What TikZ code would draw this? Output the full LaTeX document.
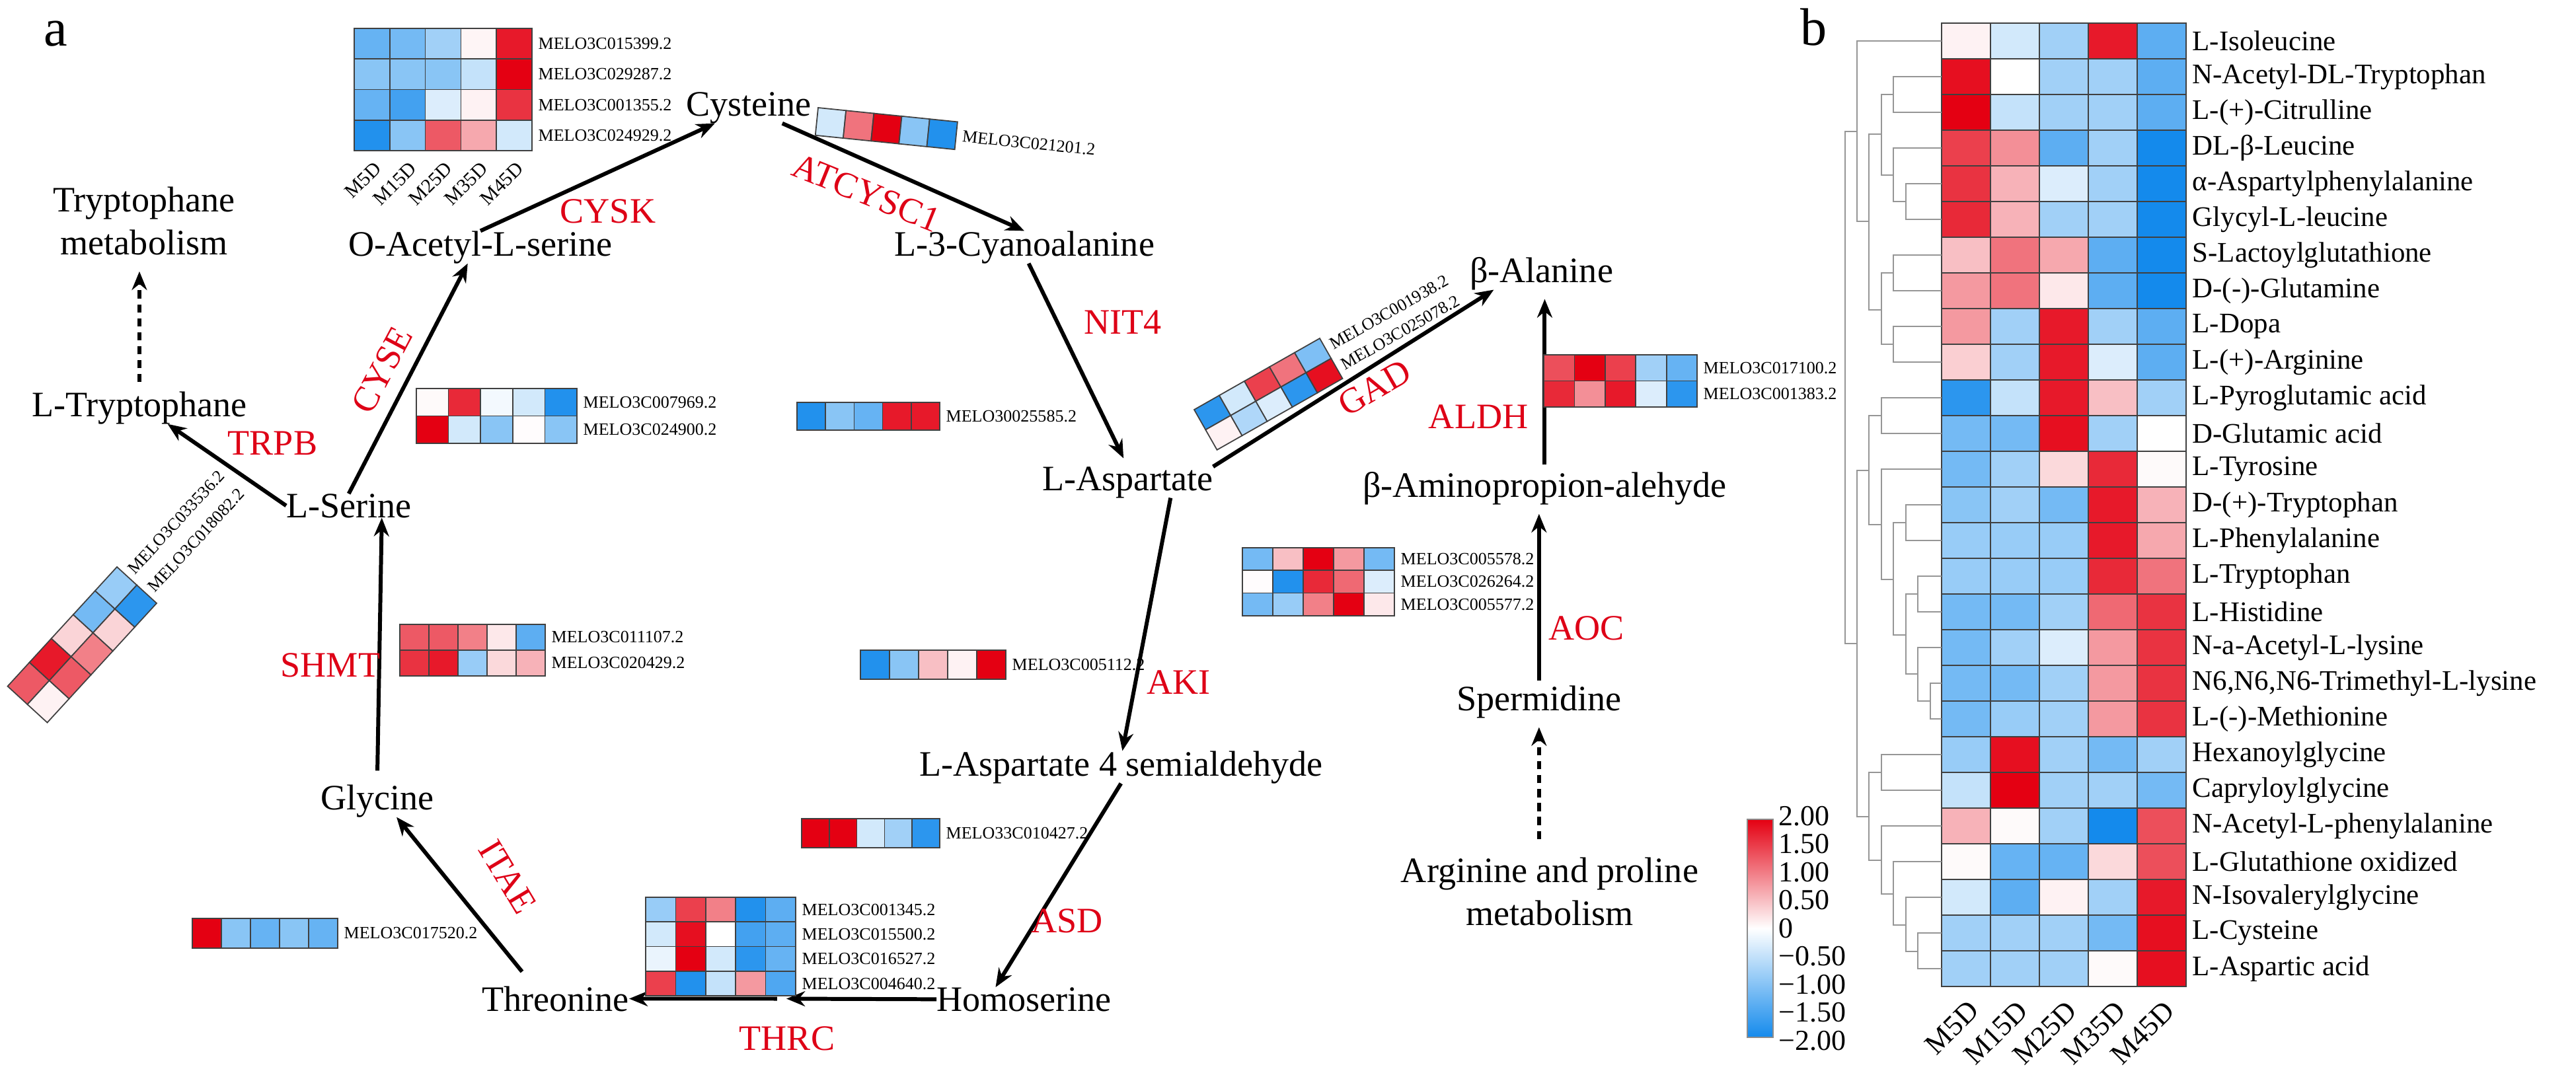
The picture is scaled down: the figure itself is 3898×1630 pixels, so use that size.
\documentclass[tikz,border=0pt]{standalone}
\usepackage{fontspec}
\setmainfont{Liberation Serif}
\usetikzlibrary{arrows.meta}

\definecolor{hmred}{RGB}{228,0,18}
\definecolor{hmblue}{RGB}{20,138,236}
\definecolor{enzred}{RGB}{222,0,22}
\definecolor{treegray}{RGB}{150,150,150}

\tikzset{
  met/.style={font=\fontsize{15.4}{18.5}\selectfont, inner sep=0pt, outer sep=0pt},
  enz/.style={font=\fontsize{15.4}{18.5}\selectfont, text=enzred, inner sep=0pt},
  gene/.style={font=\fontsize{7.4}{8}\selectfont, inner sep=0pt, anchor=west},
  blab/.style={font=\fontsize{12.2}{14}\selectfont, inner sep=0pt, anchor=west},
  colab/.style={inner sep=0pt, anchor=east, rotate=45},
  panel/.style={font=\fontsize{22.8}{24}\selectfont, inner sep=0pt},
  arr/.style={line width=1.7pt, -{Stealth[length=8pt,width=6.5pt]}},
  dasharr/.style={arr, dash pattern=on 3.5pt off 2.5pt},
  cellline/.style={draw=black!75, line width=0.5pt},
  tree/.style={draw=treegray, line width=0.8pt},
}

% heatmap: label style, origin, angle, cell width, cell height, rows, labels
\newcommand{\heatmap}[7]{%
  \begin{scope}[shift={#2}, rotate=#3]
    \foreach \row [count=\ri from 0] in {#6} {
      \foreach \v [count=\ci from 0] in \row {
        \pgfmathtruncatemacro\p{min(100,abs(\v)*50)}
        \ifdim\v pt<0pt \def\hc{hmblue}\else\def\hc{hmred}\fi
        \filldraw[fill=\hc!\p!white, cellline] (\ci*#4,\ri*#5) rectangle ++(#4,#5);
      }
    }
    \foreach \lab [count=\ri from 0] in {#7}
      \node[#1, rotate=#3] at (5*#4+9, \ri*#5+0.5*#5) {\lab};
  \end{scope}}

\begin{document}
\begin{tikzpicture}[x=0.01cm, y=-0.01cm, >=Stealth]
\useasboundingbox (0,0) rectangle (3898,1630);

% panel letters
\node[panel, anchor=base] (pa) at (84,69) {a};
\node[panel, anchor=base] (pb) at (2745,68) {b};

% metabolites
\node[met, anchor=north, align=center] (trpm) at (218,283) {Tryptophane\\metabolism};
\node[met, anchor=base west] (ltrp) at (48,630) {L-Tryptophane};
\node[met, anchor=base west] (lser) at (433,783) {L-Serine};
\node[met, anchor=base west] (oas) at (527,387) {O-Acetyl-L-serine};
\node[met, anchor=base west] (cys) at (1038,175) {Cysteine};
\node[met, anchor=base west] (l3c) at (1353,387) {L-3-Cyanoalanine};
\node[met, anchor=base west] (lasp) at (1577,742) {L-Aspartate};
\node[met, anchor=base west] (las4) at (1391,1174) {L-Aspartate 4 semialdehyde};
\node[met, anchor=base west] (homo) at (1417,1530) {Homoserine};
\node[met, anchor=base east] (thr) at (952,1530) {Threonine};
\node[met, anchor=base west] (gly) at (485,1225) {Glycine};
\node[met, anchor=base west] (bala) at (2224,427) {β-Alanine};
\node[met, anchor=base west] (bap) at (2062,752) {β-Aminopropion-alehyde};
\node[met, anchor=base west] (spd) at (2204,1075) {Spermidine};
\node[met, anchor=north, align=center] (arg) at (2345,1298) {Arginine and proline\\metabolism};
\coordinate (thrcm) at (1190,1511.5);

% reactions
\draw[dasharr, shorten <=4pt, shorten >=7pt] (ltrp.north) -- (ltrp.north |- trpm.south);
\draw[arr] (lser.west) -- (ltrp.-30);
\draw[arr] (lser.north) -- (oas.-128);
\draw[arr] (oas.north) -- (cys.-155);
\draw[arr] (cys.-25) -- (l3c.north);
\draw[arr, shorten >=4pt] (l3c.-75) -- (lasp.north);
\draw[arr] (lasp.-20) -- (las4.85);
\draw[arr] (las4.south) -- (homo.157);
\draw[arr] (homo.west) -- (thrcm);
\draw[arr, shorten <=4pt] (thrcm) -- (thr.east);
\draw[arr, shorten <=8pt] (thr.150) -- (gly.-40);
\draw[arr, shorten <=6pt] (gly.north) -- (lser.-20);
\draw[arr] (lasp.north east) -- (bala.-161.6);
\draw[arr, shorten <=3pt, shorten >=4pt] (bap.north) -- (bap.north |- bala.south);
\draw[arr, shorten <=2pt, shorten >=4pt] (spd.north) -- (spd.north |- bap.south);
\draw[dasharr, shorten <=8pt, shorten >=4pt] (arg.north -| spd.south) -- (spd.south);

% enzymes
\node[enz, anchor=base west] (trpb) at (344,688) {TRPB};
\node[enz, rotate=62] (cyse) at (578,560) {CYSE};
\node[enz, anchor=base west] (cysk) at (847,337) {CYSK};
\node[enz, rotate=-22] (atcysc1) at (1311,292) {ATCYSC1};
\node[enz, anchor=base west] (nit4) at (1640,505) {NIT4};
\node[enz, rotate=30] (gad) at (2080,587) {GAD};
\node[enz, anchor=base east] (aldh) at (2313,648) {ALDH};
\node[enz, anchor=base west] (aoc) at (2343,968) {AOC};
\node[enz, anchor=base west] (aki) at (1735,1050) {AKI};
\node[enz, anchor=base west] (asd) at (1560,1411) {ASD};
\node[enz, anchor=base west] (thrc) at (1118,1589) {THRC};
\node[enz, rotate=-59] (itae) at (768,1327) {ITAE};
\node[enz] (shmt) at (500,1007) {SHMT};

% gene heatmaps
\heatmap{gene}{(536,43)}{0}{53.8}{46.25}{{-1.3,-1.2,-0.8,0.08,1.8},{-1.0,-1.0,-1.0,-0.5,2},{-1.3,-1.6,-0.3,0.1,1.6},{-1.9,-1.0,1.3,0.7,-0.4}}{MELO3C015399.2,MELO3C029287.2,MELO3C001355.2,MELO3C024929.2}
\foreach \lab [count=\ci from 0] in {M5D,M15D,M25D,M35D,M45D}
  \node[colab, font=\fontsize{8.5}{9}\selectfont] at (536+53.8*\ci+36,250) {\lab};
\heatmap{gene}{(1238,163)}{-5.8}{42.4}{42}{{-0.4,1.1,2,-1.0,-1.9}}{MELO3C021201.2}
\heatmap{gene}{(11.5,1038.6)}{47.5}{49}{40.7}{{1.3,1.8,0.35,-1.2,-0.9},{0.1,1.3,1.0,0.35,-1.8}}{MELO3C033536.2,MELO3C018082.2}
\heatmap{gene}{(1807,620)}{29.6}{43.7}{35}{{-1.8,-0.4,1.5,1.1,-1.1},{0.1,-0.7,-0.3,-1.8,1.9}}{MELO3C001938.2,MELO3C025078.2}
\heatmap{gene}{(2336,537)}{0}{46.4}{39.5}{{1.4,2,1.5,-0.8,-1.3},{1.7,0.9,1.8,-0.3,-1.8}}{MELO3C017100.2,MELO3C001383.2}
\heatmap{gene}{(630,588)}{0}{48.6}{41.5}{{0.05,1.7,-0.1,-0.4,-1.9},{2,-0.4,-1.0,0.02,-1.0}}{MELO3C007969.2,MELO3C024900.2}
\heatmap{gene}{(1206,609)}{0}{43.2}{42}{{-1.9,-1.0,-1.3,1.8,1.8}}{MELO30025585.2}
\heatmap{gene}{(1302,984)}{0}{44}{44}{{-1.9,-1.0,0.5,0.1,2}}{MELO3C005112.2}
\heatmap{gene}{(1213,1239)}{0}{41.8}{44}{{2,2,-0.4,-0.8,-1.8}}{MELO33C010427.2}
\heatmap{gene}{(977,1358)}{0}{45.4}{37.3}{{-0.9,1.5,1.0,-1.9,-1.4},{-0.4,1.9,0,-1.6,-1.4},{-0.2,2,-0.4,-1.8,-1.3},{1.5,-1.9,-0.5,0.8,-1.5}}{MELO3C001345.2,MELO3C015500.2,MELO3C016527.2,MELO3C004640.2}
\heatmap{gene}{(291,1390)}{0}{44}{45}{{2,-1.0,-1.3,-1.0,-1.3}}{MELO3C017520.2}
\heatmap{gene}{(605,945)}{0}{44}{39}{{1.3,1.3,1.0,0.2,-1.4},{1.6,1.8,-0.9,0.3,0.6}}{MELO3C011107.2,MELO3C020429.2}
\heatmap{gene}{(1880,829)}{0}{46}{34.3}{{-1.2,0.5,2,0.8,-1.2},{0.03,-1.9,1.7,1.2,-0.3},{-1.2,-0.9,1.0,2,0.2}}{MELO3C005578.2,MELO3C026264.2,MELO3C005577.2}

% panel b: metabolite heatmap
\heatmap{blab}{(2938,35)}{0}{74}{54}{%
  {0.1,-0.4,-0.8,1.8,-1.4},{1.9,0,-0.8,-0.8,-1.4},{2,-0.5,-0.8,-0.8,-1.4},
  {1.5,0.9,-1.4,-0.8,-2},{1.6,0.6,-0.3,-0.8,-2},{1.7,0.6,-0.8,-0.8,-2},
  {0.5,1.1,0.7,-1.4,-2},{0.8,1.1,0.2,-1.4,-2},{0.8,-0.8,1.8,-0.8,-1.4},
  {0.4,-0.8,1.8,-0.3,-1.4},{-1.8,-0.5,1.8,0.5,-0.8},{-1.2,-1.2,1.9,-0.8,0},
  {-1.2,-0.8,0.3,1.7,0.05},{-1.0,-0.8,-1.2,1.8,0.6},{-0.9,-0.9,-0.9,1.8,0.7},
  {-0.9,-0.9,-0.9,1.7,1.1},{-1.2,-1.2,-0.8,1.2,1.6},{-1.2,-0.8,-0.3,0.8,1.6},
  {-1.2,-1.2,-0.8,0.8,1.6},{-1.2,-0.9,-0.8,0.8,1.6},{-0.9,1.9,-0.8,-1.2,-0.8},
  {-0.5,2,-0.8,-0.8,-1.2},{0.6,0.05,-0.8,-2,1.4},{0.05,-1.3,-1.3,0.3,1.4},
  {-0.4,-1.4,0.1,-0.8,1.8},{-0.8,-0.8,-0.8,-1.2,1.9},{-0.8,-0.8,-0.8,0.05,1.9}}{%
  L-Isoleucine,N-Acetyl-DL-Tryptophan,L-(+)-Citrulline,DL-β-Leucine,
  α-Aspartylphenylalanine,Glycyl-L-leucine,S-Lactoylglutathione,D-(-)-Glutamine,
  L-Dopa,L-(+)-Arginine,L-Pyroglutamic acid,D-Glutamic acid,L-Tyrosine,
  D-(+)-Tryptophan,L-Phenylalanine,L-Tryptophan,L-Histidine,N-a-Acetyl-L-lysine,
  {N6,N6,N6-Trimethyl-L-lysine},L-(-)-Methionine,Hexanoylglycine,Capryloylglycine,
  N-Acetyl-L-phenylalanine,L-Glutathione oxidized,N-Isovalerylglycine,L-Cysteine,
  L-Aspartic acid}
\foreach \lab [count=\ci from 0] in {M5D,M15D,M25D,M35D,M45D}
  \node[colab, font=\fontsize{12.5}{14}\selectfont] at (2938+74*\ci+49,1522) {\lab};

% dendrogram
\foreach \nx/\ya/\xa/\yb/\xb in {
    2792/199/2810/974/2810, 2810/62/2938/335/2828, 2828/203/2847/469/2847,
    2847/143/2865/265/2865, 2865/116/2938/170/2938, 2865/224/2938/305/2884,
    2884/278/2938/332/2938, 2847/413/2865/521/2865, 2865/386/2938/440/2938,
    2865/494/2938/548/2938, 2810/712/2828/1236/2828, 2828/629/2847/794/2847,
    2847/602/2938/656/2938, 2847/710/2938/877/2865, 2865/791/2884/961/2884,
    2884/764/2938/818/2938, 2884/899/2902/1020/2902, 2902/872/2938/926/2938,
    2902/980/2938/1061/2921, 2921/1034/2938/1088/2938, 2828/1169/2847/1302/2847,
    2847/1142/2938/1196/2938, 2847/1250/2938/1353/2865, 2865/1304/2938/1400/2884,
    2884/1358/2938/1440/2902, 2902/1412/2938/1466/2938}
  \draw[tree] (\xa,\ya) -- (\nx,\ya) -- (\nx,\yb) -- (\xb,\yb);

% colour scale
\shade[top color=hmred, bottom color=hmblue, middle color=white] (2644,1240) rectangle (2683,1570);
\draw[black!45, line width=0.6pt] (2644,1240) rectangle (2683,1570);
\foreach \lab [count=\k from 0] in {2.00,1.50,1.00,0.50,0,−0.50,−1.00,−1.50,−2.00}
  \node[font=\fontsize{12.5}{14}\selectfont, inner sep=0pt, anchor=west] at (2691,1235+42.5*\k) {\lab};
\end{tikzpicture}
\end{document}
